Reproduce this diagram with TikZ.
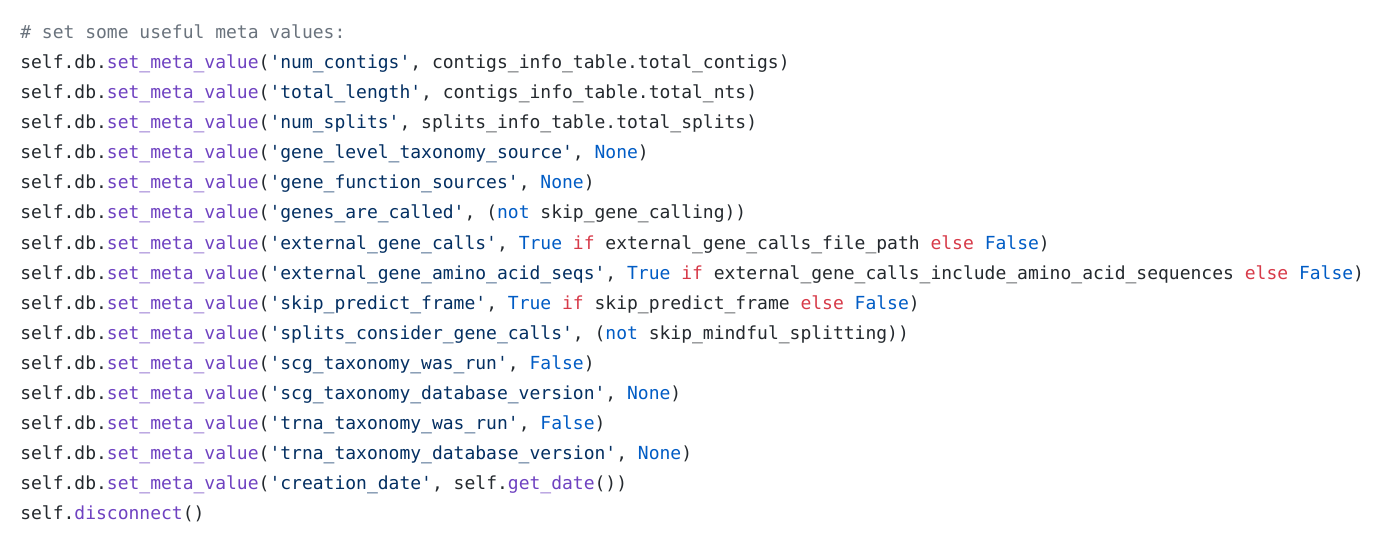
\documentclass[tikz,border=0pt]{standalone}
\usepackage{fontspec}
\setmonofont{DejaVu Sans Mono}
\definecolor{cm}{HTML}{6A737D}
\definecolor{tx}{HTML}{24292E}
\definecolor{fn}{HTML}{6F42C1}
\definecolor{st}{HTML}{032F62}
\definecolor{kw}{HTML}{005CC5}
\definecolor{rd}{HTML}{D73A49}
\newcommand{\F}[1]{\textcolor{fn}{#1}}
\newcommand{\Sq}[1]{\textcolor{st}{#1}}
\newcommand{\K}[1]{\textcolor{kw}{#1}}
\newcommand{\R}[1]{\textcolor{rd}{#1}}
\newcommand{\SM}{self.db.\F{set\_meta\_value}(}
\tikzset{code/.style={anchor=base west,inner sep=0pt,font=\ttfamily\fontsize{13.5pt}{16pt}\selectfont,text=tx}}
\begin{document}
\begin{tikzpicture}[x=0.75pt,y=-0.75pt]
\useasboundingbox[fill=white] (0,0) rectangle (1391,538);
\node[code] (l1) at (20,39) {\textcolor{cm}{\# set some useful meta values:}};
\node[code] (l2) at (20,69) {\SM\Sq{'num\_contigs'}, contigs\_info\_table.total\_contigs)};
\node[code] (l3) at (20,99) {\SM\Sq{'total\_length'}, contigs\_info\_table.total\_nts)};
\node[code] (l4) at (20,129) {\SM\Sq{'num\_splits'}, splits\_info\_table.total\_splits)};
\node[code] (l5) at (20,159) {\SM\Sq{'gene\_level\_taxonomy\_source'}, \K{None})};
\node[code] (l6) at (20,189) {\SM\Sq{'gene\_function\_sources'}, \K{None})};
\node[code] (l7) at (20,219) {\SM\Sq{'genes\_are\_called'}, (\K{not} skip\_gene\_calling))};
\node[code] (l8) at (20,249) {\SM\Sq{'external\_gene\_calls'}, \K{True} \R{if} external\_gene\_calls\_file\_path \R{else} \K{False})};
\node[code] (l9) at (20,279) {\SM\Sq{'external\_gene\_amino\_acid\_seqs'}, \K{True} \R{if} external\_gene\_calls\_include\_amino\_acid\_sequences \R{else} \K{False})};
\node[code] (l10) at (20,309) {\SM\Sq{'skip\_predict\_frame'}, \K{True} \R{if} skip\_predict\_frame \R{else} \K{False})};
\node[code] (l11) at (20,339) {\SM\Sq{'splits\_consider\_gene\_calls'}, (\K{not} skip\_mindful\_splitting))};
\node[code] (l12) at (20,369) {\SM\Sq{'scg\_taxonomy\_was\_run'}, \K{False})};
\node[code] (l13) at (20,399) {\SM\Sq{'scg\_taxonomy\_database\_version'}, \K{None})};
\node[code] (l14) at (20,429) {\SM\Sq{'trna\_taxonomy\_was\_run'}, \K{False})};
\node[code] (l15) at (20,459) {\SM\Sq{'trna\_taxonomy\_database\_version'}, \K{None})};
\node[code] (l16) at (20,489) {\SM\Sq{'creation\_date'}, self.\F{get\_date}())};
\node[code] (l17) at (20,519) {self.\F{disconnect}()};
\end{tikzpicture}
\end{document}
